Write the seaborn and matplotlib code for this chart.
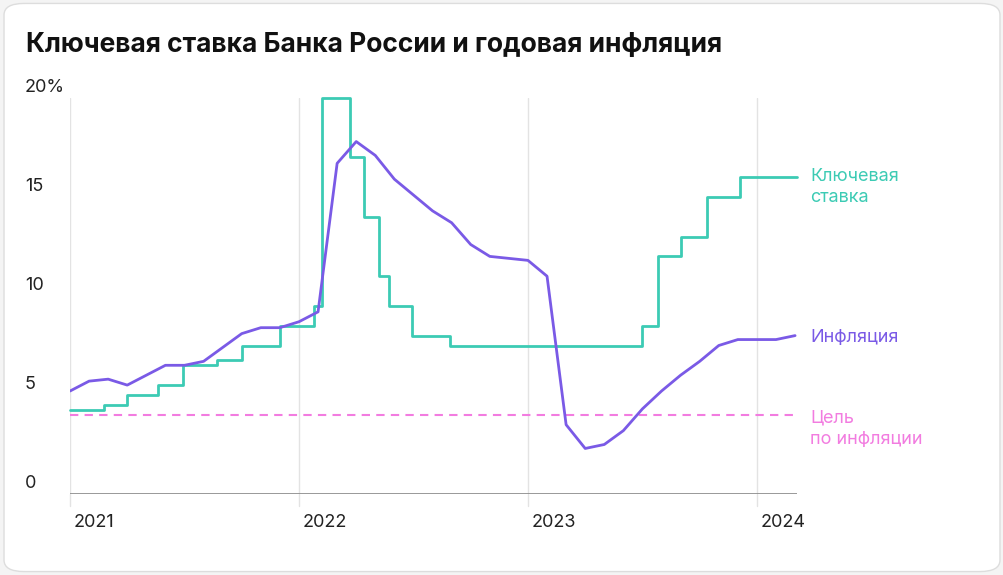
import numpy as np
import pandas as pd
import matplotlib
matplotlib.use("Agg")
import matplotlib.pyplot as plt
import seaborn as sns
from matplotlib.patches import FancyBboxPatch

# months since Jan 2021
rate_month = [0, 1.8, 3.0, 4.6, 5.9, 7.7, 9.0, 11.0, 12.8, 13.2, 14.7, 15.4, 16.2, 16.7,
              17.9, 19.9, 30.0, 30.8, 32.0, 33.4, 35.1, 38.1]
rate_value = [4.25, 4.5, 5.0, 5.5, 6.5, 6.75, 7.5, 8.5, 9.5, 20, 17, 14, 11, 9.5,
              8, 7.5, 8.5, 12, 13, 15, 16, 16]
infl_value = [5.2, 5.7, 5.8, 5.5, 6.0, 6.5, 6.5, 6.7, 7.4, 8.1, 8.4, 8.4,
              8.7, 9.2, 16.7, 17.8, 17.1, 15.9, 15.1, 14.3, 13.7, 12.6, 12.0, 11.9,
              11.8, 11.0, 3.5, 2.3, 2.5, 3.2, 4.3, 5.2, 6.0, 6.7, 7.5, 7.8,
              7.8, 7.8, 8.0]
target = 4.0
years = ["2021", "2022", "2023", "2024"]
y_ticks = [0, 5, 10, 15, 20]

teal = "#3ccbb4"
purple = "#7a5ae6"
pink = "#f27ce0"

sns.set_style("white")
plt.rcParams["font.family"] = ["Inter", "DejaVu Sans"]

fig = plt.figure(figsize=(10.04, 5.75), dpi=100)
fig.patch.set_facecolor("#f4f4f4")
fig.patches.append(FancyBboxPatch((0.004, 0.006), 0.992, 0.988, boxstyle="round,pad=0,rounding_size=0.02",
                                  transform=fig.transFigure, fc="white", ec="#dddddd", lw=1, zorder=-10))
ax = fig.add_axes([70 / 1004, 1 - 494 / 575, 727 / 1004, 396 / 575])
ax.set_xlim(0, 38.1)
ax.set_ylim(0, 20)
ax.patch.set_alpha(0)

for i in range(4):
    ax.axvline(i * 12, color="#e3e3e3", lw=1, zorder=0)
    ax.text(i * 12 + 0.2, -1.0, years[i], fontsize=13, color="#222222", ha="left", va="top")
    ax.plot([i * 12, i * 12], [0, -0.6], color="#e3e3e3", lw=1, clip_on=False)
ax.axhline(0, color="#888888", lw=1.2)
ax.axhline(target, color=pink, lw=1.5, ls=(0, (4, 3)))

rate = pd.DataFrame({"m": rate_month, "v": rate_value})
infl = pd.DataFrame({"m": np.arange(len(infl_value)), "v": infl_value})
sns.lineplot(data=rate, x="m", y="v", drawstyle="steps-post", color=teal, lw=2, ax=ax, clip_on=False)
sns.lineplot(data=infl, x="m", y="v", color=purple, lw=2, ax=ax)

for t in y_ticks:
    lab = f"{t}%" if t == 20 else str(t)
    ax.text(-45 / 19.08, t + 0.1, lab, fontsize=13, color="#222222", ha="left", va="bottom")

ax.text(38.8, 15.5, "Ключевая\nставка", color=teal, fontsize=13, va="center", linespacing=1.3)
ax.text(38.8, 7.9, "Инфляция", color=purple, fontsize=13, va="center")
ax.text(38.8, 3.3, "Цель\nпо инфляции", color=pink, fontsize=13, va="center", linespacing=1.3)

ax.set_xticks([])
ax.set_yticks([])
ax.set_xlabel("")
ax.set_ylabel("")
sns.despine(ax=ax, left=True, bottom=True)

fig.text(26 / 1004, 1 - 45 / 575, "Ключевая ставка Банка России и годовая инфляция",
         fontsize=19, fontweight="bold", color="#111111", va="center")

fig.savefig("out.png", dpi=100)
